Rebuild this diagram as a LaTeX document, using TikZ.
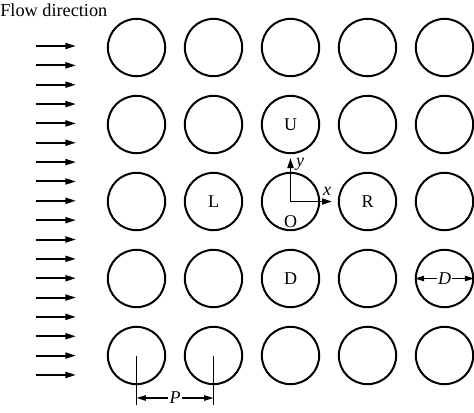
\documentclass[tikz,border=0pt]{standalone}
\usepackage{fontspec}
\setmainfont{Liberation Serif}
\usetikzlibrary{arrows.meta, positioning}

\tikzset{
  tube/.style={circle, draw, line width=1.5pt, minimum size=43pt, inner sep=0pt},
  flowarrow/.style={-{Triangle[length=8pt,width=4.5pt]}, line width=1.5pt},
  axarrow/.style={-{Triangle[length=7.5pt,width=4.5pt]}, line width=1.4pt},
  dimline/.style={{Triangle[length=7pt,width=4pt]}-{Triangle[length=7pt,width=4pt]}, line width=1.1pt},
  lbl/.style={font=\fontsize{13.5}{15}\selectfont, inner sep=1pt},
  ital/.style={font=\fontsize{13.5}{15}\selectfont\itshape, inner sep=1pt},
}

\begin{document}
\begin{tikzpicture}[x=0.75pt, y=-0.75pt]
    \useasboundingbox (0,0) rectangle (474,412);

    % Title
    \node[anchor=base west, inner sep=0pt, font=\fontsize{13.7}{16}\selectfont] (title) at (0,16) {Flow direction};

    % Incoming flow arrows
    \foreach \k in {0,...,17} {
        \coordinate (fs\k) at (36, 46+19.35*\k);
        \coordinate (fe\k) at (76, 46+19.35*\k);
        \draw[flowarrow] (fs\k) -- (fe\k);
    }

    % Tube bundle, 5 x 5, pitch 77
    \foreach \i in {1,...,5} {
        \foreach \j in {1,...,5} {
            \node[tube] (t\i\j) at (59.5+77*\i, -29.5+77*\j) {};
        }
    }

    % Neighbour labels
    \node[lbl] (U) at (t32) {U};
    \node[lbl] (L) at (t23) {L};
    \node[lbl] (R) at (t43) {R};
    \node[lbl] (Dn) at (t34) {D};

    % Local axes in the central tube
    \coordinate (xtip) at (332, 201.5);
    \coordinate (ytip) at (290.5, 158);
    \draw[axarrow] (t33.center) -- (xtip);
    \draw[axarrow] (t33.center) -- (ytip);
    \node[ital] (xlab) at (327, 191) {x};
    \node[ital] (ylab) at (300, 164) {y};
    \node[lbl] (O) at (290.5, 222) {O};

    % Diameter
    \draw[dimline] (t54.west) -- node[fill=white, ital] (dlab) {D} (t54.east);

    % Pitch
    \coordinate (pe1) at (136.5, 405);
    \coordinate (pe2) at (213.5, 405);
    \coordinate (pa) at (136.5, 398);
    \coordinate (pb) at (213.5, 398);
    \draw[line width=1.1pt] (t15.center) -- (pe1);
    \draw[line width=1.1pt] (t25.center) -- (pe2);
    \draw[dimline] (pa) -- node[fill=white, ital] (plab) {P} (pb);
\end{tikzpicture}
\end{document}
